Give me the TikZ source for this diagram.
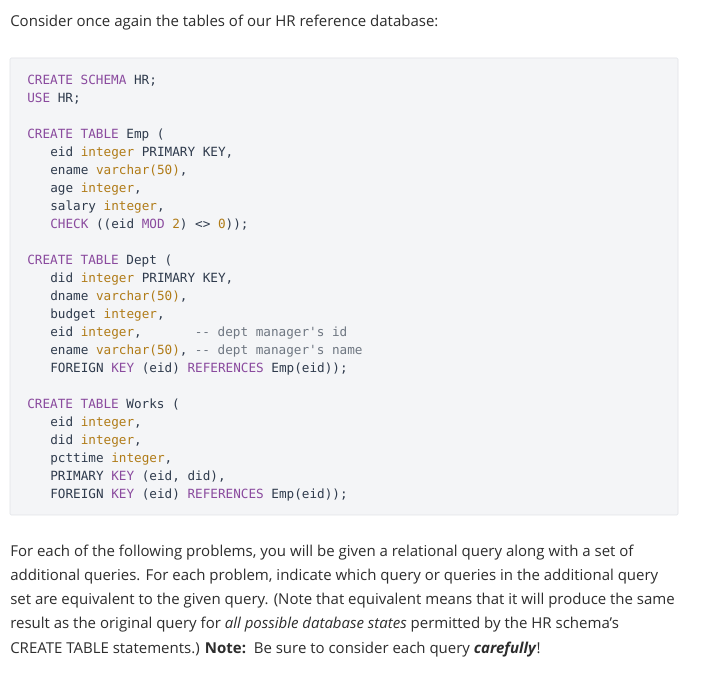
\documentclass[tikz,border=0pt]{standalone}
\usepackage{fontspec}
\setmainfont{Open Sans}
\setmonofont{DejaVu Sans Mono}
\definecolor{kw}{HTML}{8A4A9E}
\definecolor{ty}{HTML}{B07B17}
\definecolor{pl}{HTML}{2E3A4C}
\definecolor{cmt}{HTML}{6E7681}
\definecolor{txt}{HTML}{2D2D2D}
\definecolor{boxbg}{HTML}{F4F5F7}
\definecolor{boxln}{HTML}{E1E3E8}
\newcommand{\K}[1]{\textcolor{kw}{#1}}
\newcommand{\T}[1]{\textcolor{ty}{#1}}
\begin{document}
\begin{tikzpicture}[x=0.75pt,y=-0.75pt,
  code/.style={anchor=base west,inner sep=0,font=\ttfamily\fontsize{9.5}{11}\selectfont,text=pl},
  prose/.style={anchor=base west,inner sep=0,font=\fontsize{11.25}{13}\selectfont,text=txt}]
\useasboundingbox[fill=white] (0,0) rectangle (718,680);
\node[prose] (intro) at (10,27) {Consider once again the tables of our HR reference database:};
\draw[fill=boxbg,draw=boxln,rounded corners=1pt] (10,58) rectangle (678,515);
\node[code] (l1) at (27,85) {\K{CREATE SCHEMA} HR;};
\node[code] (l2) at (27,103) {\K{USE} HR;};
\node[code] (l3) at (27,139) {\K{CREATE TABLE} Emp (};
\node[code] (l4) at (50,157) {eid \T{integer} PRIMARY KEY,};
\node[code] (l5) at (50,175) {ename \T{varchar(50)},};
\node[code] (l6) at (50,193) {age \T{integer},};
\node[code] (l7) at (50,211) {salary \T{integer},};
\node[code] (l8) at (50,229) {\K{CHECK} ((eid \K{MOD} \T{2}) <> \T{0}));};
\node[code] (l9) at (27,265) {\K{CREATE TABLE} Dept (};
\node[code] (l10) at (50,283) {did \T{integer} PRIMARY KEY,};
\node[code] (l11) at (50,301) {dname \T{varchar(50)},};
\node[code] (l12) at (50,319) {budget \T{integer},};
\node[code] (l13) at (50,337) {eid \T{integer},};
\node[code,text=cmt] (c13) at (194.5,337) {-- dept manager's id};
\node[code] (l14) at (50,355) {ename \T{varchar(50)},};
\node[code,text=cmt] (c14) at (194.5,355) {-- dept manager's name};
\node[code] (l15) at (50,373) {FOREIGN \K{KEY} (eid) \K{REFERENCES} Emp(eid));};
\node[code] (l16) at (27,409) {\K{CREATE TABLE} Works (};
\node[code] (l17) at (50,427) {eid \T{integer},};
\node[code] (l18) at (50,445) {did \T{integer},};
\node[code] (l19) at (50,463) {pcttime \T{integer},};
\node[code] (l20) at (50,481) {PRIMARY \K{KEY} (eid, did),};
\node[code] (l21) at (50,499) {FOREIGN \K{KEY} (eid) \K{REFERENCES} Emp(eid));};
\node[prose] (p1) at (10,557) {For each of the following problems, you will be given a relational query along with a set of};
\node[prose] (p2) at (10,581) {additional queries. For each problem, indicate which query or queries in the additional query};
\node[prose] (p3) at (10,605) {set are equivalent to the given query. (Note that equivalent means that it will produce the same};
\node[prose] (p4) at (10,629) {result as the original query for \textit{all possible database states} permitted by the HR schema's};
\node[prose] (p5) at (10,653) {CREATE TABLE statements.) \textbf{Note:}\, Be sure to consider each query \textbf{\textit{carefully}}!};
\end{tikzpicture}
\end{document}
